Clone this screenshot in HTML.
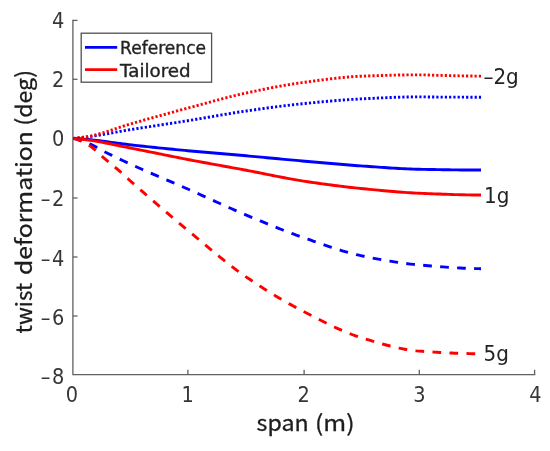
<!DOCTYPE html>
<html><head><meta charset="utf-8"><title>twist deformation</title>
<style>
html,body{margin:0;padding:0;background:#fff;}
svg{display:block;}
text{font-family:'DejaVu Sans','Liberation Sans',sans-serif;}
</style></head><body>
<svg width="550" height="451" viewBox="0 0 550 451">
<rect width="550" height="451" fill="#ffffff"/>
<g stroke="#606060" stroke-width="1.3" fill="none">
<path d="M72.9,19.8 V374.6 H535.3"/>
<path d="M72.9,20.4 h4.6"/>
<path d="M72.9,79.3 h4.6"/>
<path d="M72.9,138.4 h4.6"/>
<path d="M72.9,198.0 h4.6"/>
<path d="M72.9,257.0 h4.6"/>
<path d="M72.9,316.0 h4.6"/>
<path d="M187.9,374.6 v-4.8"/>
<path d="M304.1,374.6 v-4.8"/>
<path d="M419.3,374.6 v-4.8"/>
<path d="M534.6,374.6 v-4.8"/>
</g>
<g fill="#363636" font-size="21.5" text-anchor="end">
<text transform="translate(64.3,27.99) scale(0.9,1)">4</text>
<text transform="translate(64.3,86.74) scale(0.9,1)">2</text>
<text transform="translate(64.3,146.49) scale(0.9,1)">0</text>
<text transform="translate(64.3,205.64) scale(0.9,1)"><tspan letter-spacing="1.7">–</tspan>2</text>
<text transform="translate(64.3,265.84) scale(0.9,1)"><tspan letter-spacing="1.7">–</tspan>4</text>
<text transform="translate(64.3,324.54) scale(0.9,1)"><tspan letter-spacing="1.7">–</tspan>6</text>
<text transform="translate(64.3,383.54) scale(0.9,1)"><tspan letter-spacing="1.7">–</tspan>8</text>
</g>
<g fill="#363636" font-size="21.5" text-anchor="middle">
<text transform="translate(71.85,402.4) scale(0.9,1)">0</text>
<text transform="translate(187.74,402.4) scale(0.9,1)">1</text>
<text transform="translate(303.63,402.4) scale(0.9,1)">2</text>
<text transform="translate(419.52,402.4) scale(0.9,1)">3</text>
<text transform="translate(535.41,402.4) scale(0.9,1)">4</text>
</g>
<g font-size="22.5" fill="#1c1c1c" stroke="#1c1c1c" stroke-width="0.3" transform="translate(32.4,0) rotate(-90)"><text style="font-family:'Noto Sans CJK SC','DejaVu Sans','Liberation Sans',sans-serif"><tspan x="-333.4" y="0" textLength="50.6" lengthAdjust="spacingAndGlyphs">twist</tspan> <tspan x="-275.0" y="0" textLength="143.8" lengthAdjust="spacingAndGlyphs">deformation</tspan> <tspan x="-125.6" y="0" textLength="55.7" lengthAdjust="spacingAndGlyphs">(deg)</tspan></text></g>
<text font-size="22.5" fill="#1c1c1c" stroke="#1c1c1c" stroke-width="0.3" style="font-family:'Noto Sans CJK SC','DejaVu Sans','Liberation Sans',sans-serif" y="431.4"><tspan x="256.6" textLength="52.1" lengthAdjust="spacingAndGlyphs">span</tspan> <tspan x="315.0" textLength="39.6" lengthAdjust="spacingAndGlyphs">(m)</tspan></text>
<path d="M73.30,138.40 L76.23,138.12 L79.17,137.83 L82.10,137.52 L85.03,137.18 L87.97,136.82 L90.90,136.43 L93.83,136.00 L96.76,135.55 L99.70,135.07 L102.63,134.57 L105.56,134.06 L108.50,133.54 L111.43,133.01 L114.36,132.47 L117.30,131.94 L120.23,131.41 L123.16,130.88 L126.10,130.37 L129.03,129.87 L131.96,129.39 L134.89,128.92 L137.83,128.45 L140.76,127.99 L143.69,127.53 L146.63,127.07 L149.56,126.62 L152.49,126.17 L155.43,125.71 L158.36,125.27 L161.29,124.82 L164.23,124.37 L167.16,123.92 L170.09,123.46 L173.03,123.01 L175.96,122.56 L178.89,122.10 L181.82,121.64 L184.76,121.17 L187.69,120.71 L190.62,120.23 L193.56,119.75 L196.49,119.26 L199.42,118.76 L202.36,118.26 L205.29,117.76 L208.22,117.25 L211.16,116.74 L214.09,116.23 L217.02,115.72 L219.95,115.21 L222.89,114.71 L225.82,114.21 L228.75,113.72 L231.69,113.24 L234.62,112.76 L237.55,112.29 L240.49,111.84 L243.42,111.39 L246.35,110.96 L249.29,110.54 L252.22,110.12 L255.15,109.70 L258.08,109.28 L261.02,108.87 L263.95,108.46 L266.88,108.06 L269.82,107.66 L272.75,107.27 L275.68,106.89 L278.62,106.51 L281.55,106.14 L284.48,105.77 L287.42,105.42 L290.35,105.07 L293.28,104.73 L296.22,104.41 L299.15,104.09 L302.08,103.78 L305.01,103.49 L307.95,103.20 L310.88,102.91 L313.81,102.62 L316.75,102.34 L319.68,102.05 L322.61,101.78 L325.55,101.51 L328.48,101.24 L331.41,100.99 L334.35,100.73 L337.28,100.49 L340.21,100.26 L343.14,100.03 L346.08,99.82 L349.01,99.61 L351.94,99.42 L354.88,99.24 L357.81,99.07 L360.74,98.92 L363.68,98.77 L366.61,98.63 L369.54,98.48 L372.48,98.34 L375.41,98.19 L378.34,98.05 L381.27,97.92 L384.21,97.78 L387.14,97.65 L390.07,97.53 L393.01,97.42 L395.94,97.31 L398.87,97.21 L401.81,97.13 L404.74,97.05 L407.67,96.99 L410.61,96.93 L413.54,96.90 L416.47,96.87 L419.41,96.86 L422.34,96.88 L425.27,96.91 L428.20,96.95 L431.14,96.99 L434.07,97.04 L437.00,97.08 L439.94,97.10 L442.87,97.11 L445.80,97.12 L448.74,97.13 L451.67,97.14 L454.60,97.15 L457.54,97.16 L460.47,97.16 L463.40,97.17 L466.33,97.18 L469.27,97.18 L472.20,97.18 L475.13,97.19 L478.07,97.19 L481.00,97.19" fill="none" stroke="#0000ff" stroke-width="2.9" stroke-dasharray="2.2 2.055"/>
<path d="M73.30,138.40 L76.23,138.12 L79.17,137.78 L82.10,137.40 L85.03,136.97 L87.97,136.49 L90.90,135.92 L93.83,135.27 L96.76,134.54 L99.70,133.74 L102.63,132.88 L105.56,131.98 L108.50,131.04 L111.43,130.08 L114.36,129.10 L117.30,128.12 L120.23,127.14 L123.16,126.19 L126.10,125.26 L129.03,124.36 L131.96,123.52 L134.89,122.68 L137.83,121.85 L140.76,121.03 L143.69,120.20 L146.63,119.38 L149.56,118.55 L152.49,117.74 L155.43,116.92 L158.36,116.11 L161.29,115.30 L164.23,114.49 L167.16,113.68 L170.09,112.88 L173.03,112.08 L175.96,111.28 L178.89,110.49 L181.82,109.70 L184.76,108.91 L187.69,108.12 L190.62,107.34 L193.56,106.55 L196.49,105.75 L199.42,104.95 L202.36,104.15 L205.29,103.35 L208.22,102.55 L211.16,101.75 L214.09,100.96 L217.02,100.17 L219.95,99.39 L222.89,98.62 L225.82,97.86 L228.75,97.11 L231.69,96.37 L234.62,95.66 L237.55,94.95 L240.49,94.27 L243.42,93.61 L246.35,92.96 L249.29,92.34 L252.22,91.71 L255.15,91.09 L258.08,90.48 L261.02,89.88 L263.95,89.28 L266.88,88.69 L269.82,88.11 L272.75,87.54 L275.68,86.98 L278.62,86.44 L281.55,85.91 L284.48,85.39 L287.42,84.88 L290.35,84.40 L293.28,83.92 L296.22,83.47 L299.15,83.03 L302.08,82.61 L305.01,82.21 L307.95,81.82 L310.88,81.42 L313.81,81.02 L316.75,80.63 L319.68,80.24 L322.61,79.85 L325.55,79.48 L328.48,79.11 L331.41,78.76 L334.35,78.42 L337.28,78.09 L340.21,77.79 L343.14,77.50 L346.08,77.23 L349.01,76.98 L351.94,76.76 L354.88,76.56 L357.81,76.39 L360.74,76.25 L363.68,76.14 L366.61,76.02 L369.54,75.91 L372.48,75.81 L375.41,75.70 L378.34,75.60 L381.27,75.51 L384.21,75.42 L387.14,75.33 L390.07,75.25 L393.01,75.17 L395.94,75.11 L398.87,75.04 L401.81,74.99 L404.74,74.94 L407.67,74.90 L410.61,74.87 L413.54,74.85 L416.47,74.83 L419.41,74.83 L422.34,74.85 L425.27,74.92 L428.20,75.01 L431.14,75.12 L434.07,75.23 L437.00,75.33 L439.94,75.41 L442.87,75.48 L445.80,75.54 L448.74,75.61 L451.67,75.67 L454.60,75.73 L457.54,75.79 L460.47,75.84 L463.40,75.90 L466.33,75.95 L469.27,76.00 L472.20,76.04 L475.13,76.08 L478.07,76.12 L481.00,76.15" fill="none" stroke="#ff0000" stroke-width="2.9" stroke-dasharray="2.2 2.057"/>
<path d="M73.30,138.40 L76.23,138.59 L79.17,138.79 L82.10,139.01 L85.03,139.25 L87.97,139.51 L90.90,139.79 L93.83,140.11 L96.76,140.44 L99.70,140.80 L102.63,141.18 L105.56,141.56 L108.50,141.96 L111.43,142.36 L114.36,142.76 L117.30,143.16 L120.23,143.55 L123.16,143.94 L126.10,144.31 L129.03,144.67 L131.96,145.00 L134.89,145.33 L137.83,145.65 L140.76,145.97 L143.69,146.29 L146.63,146.60 L149.56,146.91 L152.49,147.22 L155.43,147.53 L158.36,147.83 L161.29,148.13 L164.23,148.42 L167.16,148.71 L170.09,149.00 L173.03,149.29 L175.96,149.58 L178.89,149.86 L181.82,150.14 L184.76,150.42 L187.69,150.70 L190.62,150.97 L193.56,151.24 L196.49,151.51 L199.42,151.77 L202.36,152.03 L205.29,152.29 L208.22,152.54 L211.16,152.79 L214.09,153.04 L217.02,153.29 L219.95,153.54 L222.89,153.79 L225.82,154.03 L228.75,154.28 L231.69,154.53 L234.62,154.78 L237.55,155.03 L240.49,155.29 L243.42,155.55 L246.35,155.81 L249.29,156.07 L252.22,156.34 L255.15,156.61 L258.08,156.88 L261.02,157.15 L263.95,157.42 L266.88,157.70 L269.82,157.97 L272.75,158.25 L275.68,158.52 L278.62,158.80 L281.55,159.07 L284.48,159.34 L287.42,159.62 L290.35,159.89 L293.28,160.15 L296.22,160.42 L299.15,160.68 L302.08,160.95 L305.01,161.20 L307.95,161.46 L310.88,161.72 L313.81,161.99 L316.75,162.25 L319.68,162.51 L322.61,162.77 L325.55,163.03 L328.48,163.29 L331.41,163.55 L334.35,163.80 L337.28,164.06 L340.21,164.30 L343.14,164.55 L346.08,164.78 L349.01,165.02 L351.94,165.25 L354.88,165.47 L357.81,165.68 L360.74,165.89 L363.68,166.09 L366.61,166.30 L369.54,166.50 L372.48,166.71 L375.41,166.92 L378.34,167.13 L381.27,167.34 L384.21,167.54 L387.14,167.74 L390.07,167.94 L393.01,168.12 L395.94,168.30 L398.87,168.47 L401.81,168.63 L404.74,168.77 L407.67,168.91 L410.61,169.03 L413.54,169.13 L416.47,169.22 L419.41,169.29 L422.34,169.35 L425.27,169.41 L428.20,169.46 L431.14,169.52 L434.07,169.57 L437.00,169.62 L439.94,169.67 L442.87,169.72 L445.80,169.77 L448.74,169.81 L451.67,169.85 L454.60,169.89 L457.54,169.92 L460.47,169.95 L463.40,169.98 L466.33,170.00 L469.27,170.02 L472.20,170.03 L475.13,170.04 L478.07,170.05 L481.00,170.05" fill="none" stroke="#0000ff" stroke-width="2.9"/>
<path d="M73.30,138.40 L76.23,138.67 L79.17,138.95 L82.10,139.27 L85.03,139.61 L87.97,139.98 L90.90,140.40 L93.83,140.85 L96.76,141.34 L99.70,141.85 L102.63,142.40 L105.56,142.96 L108.50,143.54 L111.43,144.14 L114.36,144.74 L117.30,145.35 L120.23,145.96 L123.16,146.57 L126.10,147.17 L129.03,147.75 L131.96,148.33 L134.89,148.90 L137.83,149.48 L140.76,150.06 L143.69,150.64 L146.63,151.23 L149.56,151.82 L152.49,152.42 L155.43,153.01 L158.36,153.61 L161.29,154.20 L164.23,154.80 L167.16,155.39 L170.09,155.98 L173.03,156.57 L175.96,157.16 L178.89,157.74 L181.82,158.32 L184.76,158.89 L187.69,159.46 L190.62,160.02 L193.56,160.57 L196.49,161.12 L199.42,161.67 L202.36,162.22 L205.29,162.76 L208.22,163.30 L211.16,163.83 L214.09,164.37 L217.02,164.90 L219.95,165.43 L222.89,165.97 L225.82,166.50 L228.75,167.03 L231.69,167.56 L234.62,168.10 L237.55,168.64 L240.49,169.18 L243.42,169.72 L246.35,170.27 L249.29,170.82 L252.22,171.38 L255.15,171.96 L258.08,172.54 L261.02,173.12 L263.95,173.71 L266.88,174.30 L269.82,174.89 L272.75,175.48 L275.68,176.07 L278.62,176.65 L281.55,177.22 L284.48,177.78 L287.42,178.34 L290.35,178.88 L293.28,179.40 L296.22,179.91 L299.15,180.40 L302.08,180.88 L305.01,181.33 L307.95,181.77 L310.88,182.21 L313.81,182.64 L316.75,183.06 L319.68,183.48 L322.61,183.88 L325.55,184.28 L328.48,184.68 L331.41,185.06 L334.35,185.44 L337.28,185.81 L340.21,186.17 L343.14,186.53 L346.08,186.87 L349.01,187.21 L351.94,187.53 L354.88,187.85 L357.81,188.16 L360.74,188.46 L363.68,188.75 L366.61,189.04 L369.54,189.33 L372.48,189.61 L375.41,189.90 L378.34,190.18 L381.27,190.45 L384.21,190.72 L387.14,190.99 L390.07,191.24 L393.01,191.49 L395.94,191.73 L398.87,191.96 L401.81,192.18 L404.74,192.38 L407.67,192.58 L410.61,192.76 L413.54,192.93 L416.47,193.08 L419.41,193.21 L422.34,193.34 L425.27,193.47 L428.20,193.59 L431.14,193.72 L434.07,193.84 L437.00,193.96 L439.94,194.07 L442.87,194.18 L445.80,194.29 L448.74,194.39 L451.67,194.48 L454.60,194.58 L457.54,194.66 L460.47,194.74 L463.40,194.81 L466.33,194.87 L469.27,194.92 L472.20,194.96 L475.13,195.00 L478.07,195.03 L481.00,195.04" fill="none" stroke="#ff0000" stroke-width="2.9"/>
<path d="M73.30,138.40 L76.23,139.16 L79.17,140.02 L82.10,140.98 L85.03,142.03 L87.97,143.15 L90.90,144.38 L93.83,145.81 L96.76,147.38 L99.70,149.01 L102.63,150.66 L105.56,152.25 L108.50,153.73 L111.43,155.17 L114.36,156.59 L117.30,158.00 L120.23,159.38 L123.16,160.76 L126.10,162.12 L129.03,163.47 L131.96,164.81 L134.89,166.14 L137.83,167.45 L140.76,168.75 L143.69,170.05 L146.63,171.33 L149.56,172.60 L152.49,173.87 L155.43,175.14 L158.36,176.39 L161.29,177.65 L164.23,178.90 L167.16,180.16 L170.09,181.41 L173.03,182.67 L175.96,183.93 L178.89,185.19 L181.82,186.46 L184.76,187.73 L187.69,189.01 L190.62,190.31 L193.56,191.61 L196.49,192.92 L199.42,194.24 L202.36,195.56 L205.29,196.89 L208.22,198.22 L211.16,199.55 L214.09,200.88 L217.02,202.21 L219.95,203.54 L222.89,204.87 L225.82,206.18 L228.75,207.49 L231.69,208.79 L234.62,210.08 L237.55,211.36 L240.49,212.63 L243.42,213.88 L246.35,215.11 L249.29,216.34 L252.22,217.56 L255.15,218.78 L258.08,220.00 L261.02,221.21 L263.95,222.42 L266.88,223.62 L269.82,224.81 L272.75,225.99 L275.68,227.17 L278.62,228.33 L281.55,229.48 L284.48,230.62 L287.42,231.75 L290.35,232.86 L293.28,233.96 L296.22,235.04 L299.15,236.10 L302.08,237.14 L305.01,238.17 L307.95,239.20 L310.88,240.23 L313.81,241.26 L316.75,242.30 L319.68,243.32 L322.61,244.35 L325.55,245.36 L328.48,246.35 L331.41,247.34 L334.35,248.30 L337.28,249.24 L340.21,250.16 L343.14,251.04 L346.08,251.90 L349.01,252.72 L351.94,253.51 L354.88,254.25 L357.81,254.96 L360.74,255.61 L363.68,256.23 L366.61,256.83 L369.54,257.43 L372.48,258.01 L375.41,258.57 L378.34,259.13 L381.27,259.67 L384.21,260.19 L387.14,260.70 L390.07,261.19 L393.01,261.66 L395.94,262.12 L398.87,262.55 L401.81,262.96 L404.74,263.35 L407.67,263.72 L410.61,264.07 L413.54,264.39 L416.47,264.69 L419.41,264.96 L422.34,265.22 L425.27,265.47 L428.20,265.73 L431.14,265.98 L434.07,266.22 L437.00,266.46 L439.94,266.69 L442.87,266.91 L445.80,267.13 L448.74,267.33 L451.67,267.53 L454.60,267.71 L457.54,267.88 L460.47,268.04 L463.40,268.18 L466.33,268.31 L469.27,268.43 L472.20,268.52 L475.13,268.60 L478.07,268.66 L481.00,268.70" fill="none" stroke="#0000ff" stroke-width="2.9" stroke-dasharray="8.7 8.308"/>
<path d="M73.30,138.40 L76.23,139.18 L79.17,140.23 L82.10,141.49 L85.03,142.93 L87.97,144.50 L90.90,146.45 L93.83,148.82 L96.76,151.46 L99.70,154.20 L102.63,156.89 L105.56,159.39 L108.50,161.81 L111.43,164.21 L114.36,166.63 L117.30,169.11 L120.23,171.69 L123.16,174.35 L126.10,177.04 L129.03,179.72 L131.96,182.34 L134.89,184.94 L137.83,187.53 L140.76,190.11 L143.69,192.68 L146.63,195.25 L149.56,197.80 L152.49,200.35 L155.43,202.89 L158.36,205.42 L161.29,207.95 L164.23,210.46 L167.16,212.97 L170.09,215.47 L173.03,217.95 L175.96,220.43 L178.89,222.90 L181.82,225.35 L184.76,227.80 L187.69,230.24 L190.62,232.67 L193.56,235.11 L196.49,237.56 L199.42,240.02 L202.36,242.48 L205.29,244.94 L208.22,247.39 L211.16,249.84 L214.09,252.27 L217.02,254.68 L219.95,257.07 L222.89,259.44 L225.82,261.78 L228.75,264.09 L231.69,266.37 L234.62,268.60 L237.55,270.79 L240.49,272.94 L243.42,275.03 L246.35,277.07 L249.29,279.07 L252.22,281.04 L255.15,282.99 L258.08,284.91 L261.02,286.81 L263.95,288.68 L266.88,290.53 L269.82,292.35 L272.75,294.14 L275.68,295.91 L278.62,297.66 L281.55,299.38 L284.48,301.08 L287.42,302.75 L290.35,304.39 L293.28,306.01 L296.22,307.60 L299.15,309.17 L302.08,310.72 L305.01,312.24 L307.95,313.75 L310.88,315.27 L313.81,316.79 L316.75,318.30 L319.68,319.80 L322.61,321.28 L325.55,322.75 L328.48,324.19 L331.41,325.61 L334.35,327.00 L337.28,328.35 L340.21,329.67 L343.14,330.95 L346.08,332.18 L349.01,333.36 L351.94,334.49 L354.88,335.57 L357.81,336.58 L360.74,337.53 L363.68,338.43 L366.61,339.33 L369.54,340.22 L372.48,341.10 L375.41,341.97 L378.34,342.83 L381.27,343.66 L384.21,344.48 L387.14,345.26 L390.07,346.02 L393.01,346.74 L395.94,347.43 L398.87,348.07 L401.81,348.67 L404.74,349.22 L407.67,349.72 L410.61,350.16 L413.54,350.53 L416.47,350.85 L419.41,351.10 L422.34,351.31 L425.27,351.52 L428.20,351.72 L431.14,351.91 L434.07,352.10 L437.00,352.28 L439.94,352.45 L442.87,352.62 L445.80,352.77 L448.74,352.92 L451.67,353.05 L454.60,353.18 L457.54,353.29 L460.47,353.40 L463.40,353.49 L466.33,353.57 L469.27,353.63 L472.20,353.68 L475.13,353.72 L478.07,353.74 L481.00,353.75" fill="none" stroke="#ff0000" stroke-width="2.9" stroke-dasharray="8.7 8.330"/>
<rect x="81.2" y="33.2" width="130.4" height="49" fill="#fff" stroke="#505050" stroke-width="1.3"/>
<path d="M85,47.3 H117.2" stroke="#0000ff" stroke-width="2.8"/>
<path d="M85,69.7 H117.2" stroke="#ff0000" stroke-width="2.8"/>
<text x="120.1" y="54" font-size="17.2" fill="#222" stroke="#222" stroke-width="0.35" textLength="86" lengthAdjust="spacingAndGlyphs">Reference</text>
<text x="120.1" y="77" font-size="17.2" fill="#222" stroke="#222" stroke-width="0.35" textLength="70.6" lengthAdjust="spacingAndGlyphs">Tailored</text>
<g fill="#222" font-size="20.8">
<text transform="translate(483.4,84.3) scale(0.96,1)">–2g</text>
<text transform="translate(484.0,202.8) scale(0.96,1)">1g</text>
<text transform="translate(483.6,361.2) scale(0.96,1)">5g</text>
</g>
</svg></body></html>
